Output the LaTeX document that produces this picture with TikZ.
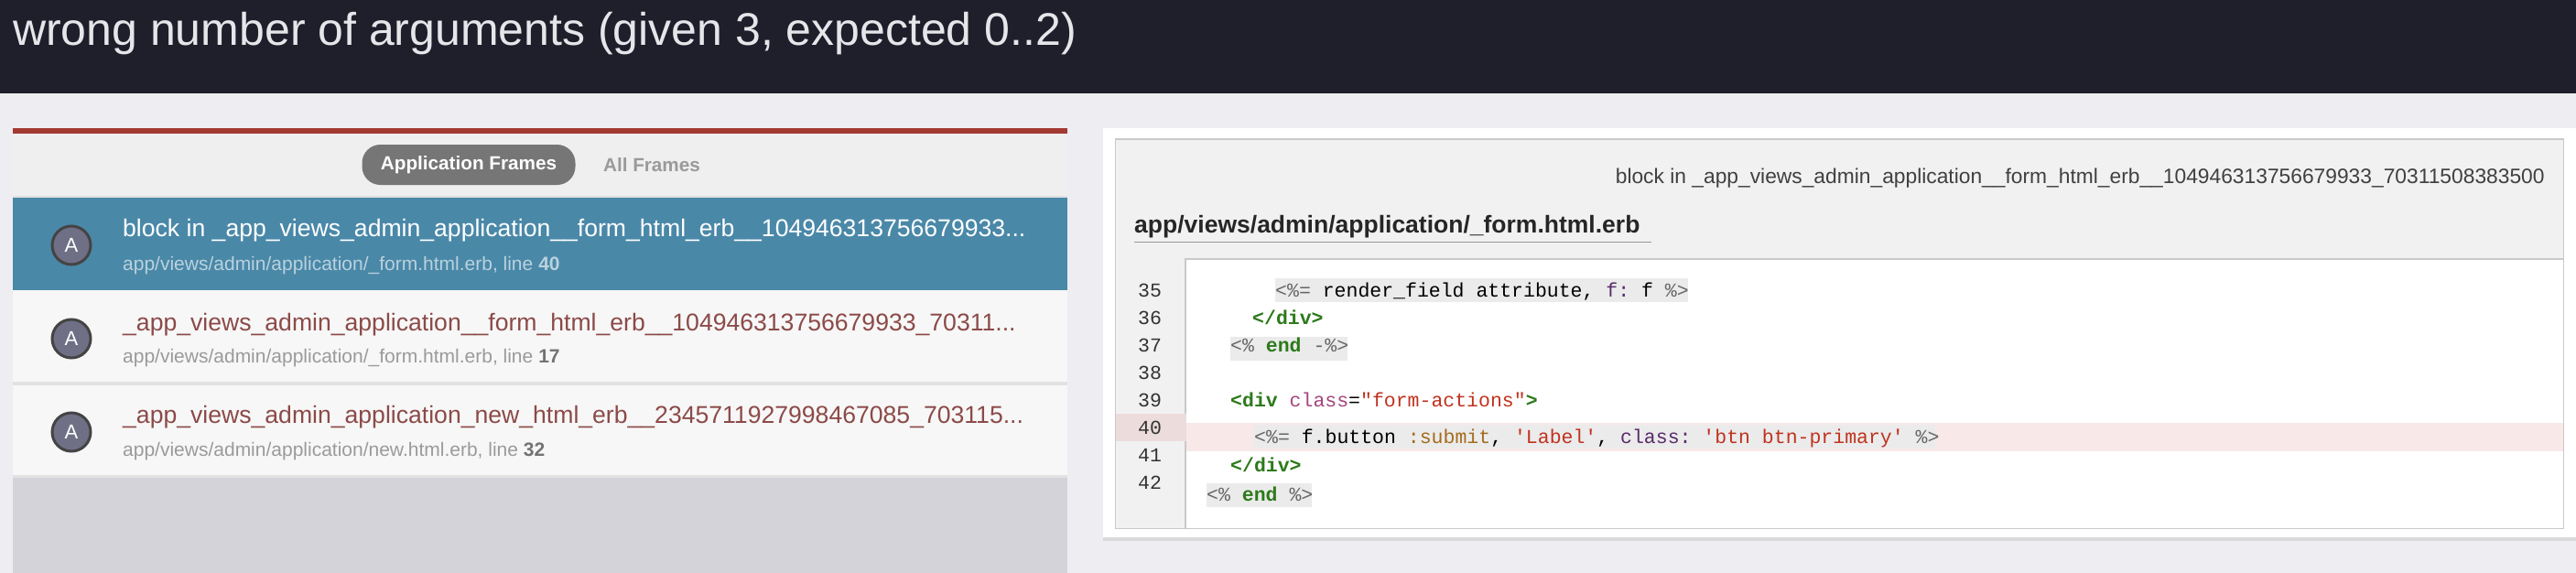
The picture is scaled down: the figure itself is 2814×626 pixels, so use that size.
\documentclass[tikz,border=0pt]{standalone}
\usepackage{fontspec}
\setmainfont{Liberation Sans}
\setmonofont{Liberation Mono}
\definecolor{pagebg}{HTML}{EEEDF2}
\definecolor{hdr}{HTML}{1E1F2B}
\definecolor{hdrtxt}{HTML}{E6E6EA}
\definecolor{redtop}{HTML}{A33A32}
\definecolor{toolbg}{HTML}{EFEFEF}
\definecolor{pill}{HTML}{767676}
\definecolor{selrow}{HTML}{4A88A8}
\definecolor{selsub}{HTML}{B9D2DE}
\definecolor{rowbg}{HTML}{F7F7F7}
\definecolor{rowsep}{HTML}{E2E2E2}
\definecolor{maroon}{HTML}{8B4A48}
\definecolor{subgrey}{HTML}{9A9A9A}
\definecolor{emptybg}{HTML}{D3D3D9}
\definecolor{avfill}{HTML}{6F7086}
\definecolor{avline}{HTML}{444444}
\definecolor{boxbg}{HTML}{F1F1F1}
\definecolor{boxline}{HTML}{C9C9C9}
\definecolor{hlrow}{HTML}{F8E8E8}
\definecolor{hlgut}{HTML}{EDDCDC}
\definecolor{erbbg}{HTML}{EBEBEB}
\definecolor{erbtxt}{HTML}{666666}
\definecolor{tag}{HTML}{2D7A1B}
\definecolor{attr}{HTML}{A5467E}
\definecolor{str}{HTML}{C0321E}
\definecolor{sym}{HTML}{A56B1C}
\definecolor{key}{HTML}{5B2A6B}
\newcommand{\erb}[1]{\textcolor{erbtxt}{#1}}
\tikzset{
  rowtitle/.style={anchor=base west,inner sep=0pt,font=\fontsize{26.6}{30}\selectfont},
  rowsub/.style={anchor=base west,inner sep=0pt,font=\fontsize{21}{24}\selectfont},
  avatar/.style={circle,minimum size=42pt,inner sep=0pt,fill=avfill,draw=avline,line width=3pt,text=white,font=\fontsize{22}{26}\selectfont},
  lnum/.style={anchor=base west,inner sep=0pt,font=\ttfamily\fontsize{21.5}{24}\selectfont,text=black!80},
  code/.style={anchor=base west,inner sep=0pt,font=\ttfamily\fontsize{21.5}{24}\selectfont}
}
\begin{document}
\begin{tikzpicture}[x=1pt,y=-1pt]
\useasboundingbox (0,0) rectangle (2814,626);
\fill[pagebg] (0,0) rectangle (2814,626);
\fill[hdr] (0,0) rectangle (2814,102);
\node[anchor=base west,inner sep=0pt,text=hdrtxt,font=\fontsize{50}{56}\selectfont] (title) at (14,49) {wrong number of arguments (given 3, expected 0..2)};
% left panel
\fill[toolbg] (14,140) rectangle (1166,216);
\fill[redtop] (14,140) rectangle (1166,146);
\fill[black!12] (14,214) rectangle (1166,216);
\node[fill=pill,rounded corners=20pt,minimum width=233pt,minimum height=44pt,text=white,font=\bfseries\fontsize{20.7}{24}\selectfont] (app) at (512,180) {Application Frames};
\node[text=subgrey,font=\bfseries\fontsize{20.7}{24}\selectfont] (all) at (712,180) {All Frames};
\fill[selrow] (14,216) rectangle (1166,317);
\fill[rowbg] (14,317) rectangle (1166,418);
\fill[rowsep] (14,417) rectangle (1166,421);
\fill[rowbg] (14,421) rectangle (1166,519);
\fill[rowsep] (14,519) rectangle (1166,522);
\fill[emptybg] (14,522) rectangle (1166,626);
\node[avatar] (a1) at (78,268) {A};
\node[avatar] (a2) at (78,370) {A};
\node[avatar] (a3) at (78,472) {A};
\node[rowtitle,text=white] (t1) at (134,258) {block in \_app\_views\_admin\_application\_\_form\_html\_erb\_\_104946313756679933...};
\node[rowsub,text=selsub] (s1) at (134,295) {app/views/admin/application/\_form.html.erb, line \textbf{40}};
\node[rowtitle,text=maroon] (t2) at (134,361) {\_app\_views\_admin\_application\_\_form\_html\_erb\_\_104946313756679933\_70311...};
\node[rowsub,text=subgrey] (s2) at (134,396) {app/views/admin/application/\_form.html.erb, line \textbf{\textcolor{black!55}{17}}};
\node[rowtitle,text=maroon] (t3) at (134,462) {\_app\_views\_admin\_application\_new\_html\_erb\_\_2345711927998467085\_703115...};
\node[rowsub,text=subgrey] (s3) at (134,498) {app/views/admin/application/new.html.erb, line \textbf{\textcolor{black!55}{32}}};
% right panel
\fill[black!15] (1205,142) rectangle (2814,591);
\fill[white] (1205,140) rectangle (2814,587);
\fill[boxline] (1218,151) rectangle (2801,578);
\fill[boxbg] (1219,153) rectangle (2800,577);
\node[anchor=base east,inner sep=0pt,text=black!75,font=\fontsize{22.8}{26}\selectfont] (hdr2) at (2780,200) {block in \_app\_views\_admin\_application\_\_form\_html\_erb\_\_104946313756679933\_70311508383500};
\node[anchor=base west,inner sep=0pt,text=black!85,font=\bfseries\fontsize{26.5}{30}\selectfont] (path) at (1239,254) {app/views/admin/application/\_form.html.erb};
\draw[black!40,line width=1.5pt] (path.south west)++(0,5) -- ++(565,0);
\fill[boxline] (1294,282) rectangle (2800,577);
\fill[white] (1296,284) rectangle (2800,577);
\fill[hlgut] (1219,452) rectangle (1296,482);
\fill[hlrow] (1296,462) rectangle (2800,493);
% ERB backgrounds
\fill[erbbg] (1393,304) rectangle (1844,330);
\fill[erbbg] (1344,368) rectangle (1472,394);
\fill[erbbg] (1370,464) rectangle (2114,490);
\fill[erbbg] (1318,528) rectangle (1433,554);
\foreach \n/\yy in {35/324,36/354,37/384,38/414,39/444,40/474,41/504,42/534}
  \node[lnum] (ln\n) at (1243,\yy) {\n};
\node[code] (c35) at (1393,324) {\erb{<\%=} render\_field attribute, \textcolor{key}{f:} f \erb{\%>}};
\node[code] (c36) at (1368,354) {\textcolor{tag}{\bfseries </div>}};
\node[code] (c37) at (1344,384) {\erb{<\%} \textcolor{tag}{\bfseries end} \erb{-\%>}};
\node[code] (c39) at (1344,444) {\textcolor{tag}{\bfseries <div} \textcolor{attr}{class}=\textcolor{str}{"form-actions"}\textcolor{tag}{\bfseries >}};
\node[code] (c40) at (1370,484) {\erb{<\%=} f.button \textcolor{sym}{:submit}, \textcolor{str}{'Label'}, \textcolor{key}{class:} \textcolor{str}{'btn btn-primary'} \erb{\%>}};
\node[code] (c41) at (1344,515) {\textcolor{tag}{\bfseries </div>}};
\node[code] (c42) at (1318,547) {\erb{<\%} \textcolor{tag}{\bfseries end} \erb{\%>}};
\end{tikzpicture}
\end{document}
